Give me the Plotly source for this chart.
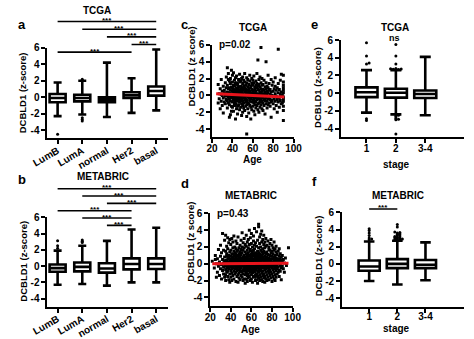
import plotly.graph_objects as go

W, H = 474, 339
FONT = "Liberation Sans, Arial, sans-serif"

# ---------------- DCBLD1 by PAM50 subtype ----------------
SUBTYPES = ["LumB", "LumA", "normal", "Her2", "basal"]

TCGA_SUB_LOW = [-2.3, -2.1, -2.4, -1.9, -1.6]
TCGA_SUB_Q1 = [-0.6, -0.5, -0.6, -0.1, 0.2]
TCGA_SUB_MED = [-0.1, -0.1, -0.3, 0.25, 0.75]
TCGA_SUB_Q3 = [0.4, 0.3, 0.0, 0.6, 1.3]
TCGA_SUB_HIGH = [1.8, 2.0, 4.2, 2.3, 5.8]
TCGA_SUB_OUT = [[-4.5], [2.2, -2.5, -2.7, -2.9], [], [], []]
TCGA_SUB_PAIRS = [("LumB", "basal"), ("LumA", "basal"), ("normal", "basal"),
                  ("Her2", "basal"), ("LumB", "Her2")]

MB_SUB_LOW = [-2.3, -2.2, -2.4, -2.0, -2.0]
MB_SUB_Q1 = [-0.7, -0.65, -0.8, -0.4, -0.35]
MB_SUB_MED = [-0.25, -0.1, -0.3, 0.25, 0.25]
MB_SUB_Q3 = [0.2, 0.45, 0.35, 0.95, 0.95]
MB_SUB_HIGH = [1.9, 2.5, 3.1, 4.5, 4.7]
MB_SUB_OUT = [[2.2, 2.5, 3.1], [2.9, 3.05, 3.2], [], [], []]
MB_SUB_PAIRS = [("LumB", "basal"), ("LumA", "basal"), ("normal", "basal"),
                ("LumB", "Her2"), ("LumA", "Her2"), ("normal", "Her2")]

# ---------------- DCBLD1 by tumour stage ----------------
STAGES = ["1", "2", "3-4"]

TCGA_ST_LOW = [-2.2, -2.4, -2.5]
TCGA_ST_Q1 = [-0.45, -0.5, -0.55]
TCGA_ST_MED = [0.1, 0.05, -0.1]
TCGA_ST_Q3 = [0.65, 0.5, 0.3]
TCGA_ST_HIGH = [2.6, 2.6, 4.1]
TCGA_ST_OUT = [[3.3, 3.4, 4.2, 5.7, -2.9, -3.1],
               [2.65, 2.68, 2.7, 2.72, 2.75, 2.78, 3.3, 4.2, 5.5,
                -2.5, -2.55, -2.7, -2.85, -2.95, -3.0, -4.6],
               []]

MB_ST_LOW = [-2.0, -2.4, -1.9]
MB_ST_Q1 = [-0.8, -0.5, -0.5]
MB_ST_MED = [-0.3, 0.0, -0.1]
MB_ST_Q3 = [0.4, 0.55, 0.45]
MB_ST_HIGH = [2.6, 2.7, 2.5]
MB_ST_OUT = [[2.8, 2.9, 3.0, 3.3, 3.6, 3.9, 4.1],
             [2.8, 2.82, 2.85, 2.9, 2.95, 3.0, 3.05, 3.1, 3.15, 3.2, 3.3, 3.35,
              3.45, 3.5, 3.6, 3.65, 3.7, 4.3, 4.6],
             []]
MB_ST_PAIRS = [("1", "2")]

# ---------------- DCBLD1 vs age (z score by patient age) ----------------
TCGA_Z_BY_AGE = {
    26: [1.3, -0.9], 27: [0.2, -0.4], 28: [0.8, -1.6], 29: [0.1, 1.9, -0.7],
    30: [-1.2, 0.5, 0.0], 31: [1.1, -0.3, -2.1], 32: [0.6, -0.8, 0.3],
    33: [1.5, -0.1, -1.0], 34: [0.9, -0.5, 2.2, 0.2],
    35: [3.3, -0.6, 0.4, 1.2, -1.5, 0.0], 36: [0.1, -0.9, 0.8, 2.6, -0.2, 1.9],
    37: [1.7, -1.1, 0.3, -0.4, 0.9, -2.6], 38: [-2.3, 0.0, 1.4, -0.7, 0.6, 2.0],
    39: [3.0, -0.3, 1.0, -1.3, 0.2, -1.9],
    40: [0.5, -0.8, 1.6, -0.1, 2.4, -1.4, 0.9], 41: [0.2, -0.5, 1.2, -1.9, 0.7, -0.2, 2.7],
    42: [-0.9, 0.4, 1.8, -0.3, 0.0, -1.2, 1.1], 43: [0.6, -0.6, 2.1, -2.8, 0.3, -1.0, 1.4],
    44: [-0.1, 0.9, -1.6, 0.2, 1.5, -0.4, 2.3], 45: [0.1, -0.7, 1.3, -1.3, 0.5, -0.2, 0.8, -2.2],
    46: [1.0, -0.5, 0.3, -1.1, 1.9, -0.1, 0.6], 47: [-0.8, 0.4, 1.6, -0.3, -1.7, 0.0, 2.5],
    48: [0.7, -0.6, 1.1, -1.4, 0.2, -0.2, 1.7], 49: [-0.4, 0.9, -1.0, 0.3, 2.0, -2.4, 0.5],
    50: [0.2, -0.7, 1.4, -1.2, 0.6, -0.1, 2.2, -2.0], 51: [0.8, -0.3, 1.1, -0.9, 0.0, 1.8, -1.5],
    52: [-0.5, 0.4, 1.6, -1.8, 0.9, -0.2, 2.6], 53: [0.1, -0.8, 1.2, -1.3, 0.5, -0.4, 0.7],
    54: [-4.6, 0.3, -0.6, 1.5, -1.1, 0.0, 2.1, -2.5], 55: [0.6, -0.2, 1.0, -1.6, 0.2, -0.9, 1.9],
    56: [-0.3, 0.8, -1.0, 0.4, 1.3, -2.1, 0.0], 57: [0.5, -0.5, 1.7, -1.2, 0.1, -0.7, 2.4],
    58: [-0.1, 0.9, -1.4, 0.3, 1.1, -0.4, -2.8], 59: [0.7, -0.8, 1.4, -0.2, 0.2, -1.7, 2.0],
    60: [0.4, -0.6, 1.2, -1.3, 0.0, 1.8, -0.2], 61: [-0.9, 0.6, 1.5, -0.4, 0.1, -1.9, 2.3],
    62: [0.3, -0.7, 1.0, -1.1, 0.8, -0.1, -2.3], 63: [-0.3, 0.5, 1.7, -1.5, 0.2, -0.8, 1.2],
    64: [0.9, -0.5, 0.0, -1.2, 1.4, -0.2, 2.6], 65: [4.2, -0.4, 0.7, -1.0, 0.2, 1.1, -1.7],
    66: [0.1, -0.9, 1.3, -0.3, 0.6, -2.0, 1.9], 67: [-0.6, 0.4, 1.0, -1.4, 0.0, 2.2, -0.1],
    68: [5.7, 0.3, -0.8, 1.5, -0.4, 0.8, -1.1], 69: [0.5, -0.2, -1.6, 1.2, 0.0, -0.7, 2.0],
    70: [0.2, -0.9, 1.3, -0.3, 0.7, -1.8], 71: [-0.5, 0.6, 1.8, -1.2, 0.1],
    72: [0.4, -0.6, 1.0, -2.2, -0.1], 73: [4.0, -0.3, 0.8, -1.0, 0.2, 1.5],
    74: [-0.7, 0.5, -1.5, 1.1, 0.0], 75: [0.3, -0.4, 2.4, -1.1, 0.9],
    76: [-0.2, 0.6, -0.9, 1.4], 77: [0.1, -1.3, 0.7, -0.5], 78: [-0.8, 0.4, 1.9, -2.6],
    79: [0.0, -0.6, 1.2], 80: [0.5, -1.0, 1.6, -0.2], 81: [-0.4, 0.8, -1.6],
    82: [0.2, -0.7, 1.1, 2.1], 83: [-0.1, 0.6, -1.2], 84: [0.9, -0.5, -2.0],
    85: [5.5, 0.3, -0.8, 1.4], 86: [-0.3, 0.7, -1.4], 87: [0.1, 1.8, -0.6],
    88: [-1.0, 0.4, 2.5], 89: [0.0, -0.9],
    90: [2.4, 1.6, 0.9, 0.3, -0.2, -0.7, -1.3, -1.8, -3.0, 1.2, -0.4, 0.6],
}
TCGA_FIT_AGE = [24, 91]
TCGA_FIT_Z = [0.2, -0.2]

MB_Z_BY_AGE = {
    22: [0.3], 24: [-0.5], 25: [1.0, 0.5], 26: [0.0, -1.6], 27: [-1.0, 0.6],
    28: [1.7, -0.3], 29: [0.2, -1.4], 30: [0.9, -0.6, 2.2], 31: [-0.1, 1.3, -1.8],
    32: [0.5, -0.8, 3.6], 33: [0.1, 1.6, -1.2, -0.4], 34: [0.8, -1.6, 2.8, 0.3, -0.2],
    35: [0.4, -0.7, 1.5, -1.3, 0.0, 3.4, -2.0], 36: [-0.2, 0.9, -1.0, 2.1, 0.3, -0.5, 1.2],
    37: [0.6, -1.5, 0.1, 1.8, -0.4, 3.1, -0.9], 38: [-0.6, 0.2, 1.0, -1.9, 0.7, 2.5, -0.1],
    39: [1.4, -0.3, 0.0, -1.2, 0.5, 2.9, -2.2],
    40: [0.2, -0.8, 1.6, -0.4, 0.9, -1.6, 2.3, 0.0], 41: [-0.1, 0.7, -1.1, 1.2, 0.4, -0.6, 3.0, -2.0],
    42: [0.5, -0.5, 1.9, -1.4, 0.1, 0.8, -0.2, 2.6], 43: [-0.9, 0.3, 1.1, -0.3, 0.6, -1.8, 1.5, 3.3],
    44: [0.0, -0.6, 0.9, -1.2, 2.0, 0.4, -0.1, 1.3],
    45: [0.3, -0.4, 1.2, -1.0, 0.7, -2.1, 1.8, 0.0, 2.7], 46: [-0.2, 0.5, -0.8, 1.5, 0.1, -1.5, 2.4, 0.9, -0.5],
    47: [0.6, -0.1, 1.0, -1.3, 0.2, -0.7, 3.2, 1.6, -2.2], 48: [-0.4, 0.8, -1.1, 0.3, 1.9, -0.2, 0.0, -1.7, 1.2],
    49: [0.1, -0.6, 1.4, -0.9, 0.5, 2.2, -0.3, -1.9, 0.9], 50: [0.4, -0.5, 1.1, -1.4, 0.0, 1.7, -0.9, 2.8, 0.7],
    51: [-0.3, 0.6, -1.0, 1.3, 0.2, -1.6, 2.0, -0.1, 3.7], 52: [0.8, -0.2, 0.3, -1.2, 1.6, -0.7, 2.5, 0.0, -2.0],
    53: [-0.5, 0.1, 1.0, -0.8, 0.5, -1.8, 1.9, 3.0, -0.2], 54: [0.2, -0.9, 1.4, -0.4, 0.7, -1.3, 2.3, 0.0, -2.3],
    55: [0.5, -0.3, 1.2, -1.1, 0.0, -1.8, 2.1, 0.8, -0.6, 3.4],
    56: [-0.1, 0.7, -0.9, 1.6, 0.3, -1.4, 2.6, -0.4, 1.0, -2.1],
    57: [0.2, -0.6, 1.3, -1.2, 0.6, -0.2, 1.9, -1.7, 0.0, 2.9],
    58: [-0.4, 0.4, 1.0, -0.8, 0.1, -1.5, 2.3, 0.9, -0.1, 4.0],
    59: [0.6, -0.5, 1.5, -1.0, 0.2, -2.0, 1.7, -0.3, 0.0, 3.1],
    60: [-0.2, 0.3, 1.1, -1.3, 0.8, -0.7, 2.4, -1.8, 0.5, 3.6],
    61: [0.1, -0.8, 1.4, -0.4, 0.6, -1.1, 2.0, -2.2, 0.0, 1.2],
    62: [-0.6, 0.5, 0.9, -1.5, 0.2, -0.2, 2.7, 1.6, -0.9, 3.3],
    63: [0.4, -0.3, 1.8, -1.0, 0.0, -1.6, 1.1, -0.5, 2.2, 4.2],
    64: [-0.1, 0.7, -0.7, 1.3, 0.3, -1.4, 2.5, -2.0, 0.9, -0.4],
    65: [0.3, -0.5, 1.0, -1.2, 0.6, -1.9, 2.1, 0.0, 3.8, -0.2],
    66: [-0.4, 0.8, -0.9, 1.5, 0.1, -1.5, 2.8, 0.4, -2.3, 1.1],
    67: [0.2, -0.2, 1.3, -1.0, 0.7, -0.6, 4.7, 1.9, -1.7, 4.4],
    68: [-0.7, 0.5, 1.1, -1.3, 0.0, 2.4, -0.3, 3.2, 0.9, -2.0],
    69: [0.4, -0.8, 1.6, -0.4, 0.2, -1.6, 2.0, -0.1, 3.5, 0.7],
    70: [-0.2, 0.6, 1.0, -1.1, 0.1, -1.9, 2.6, -0.5, 1.4, 3.9],
    71: [0.5, -0.3, 1.2, -0.9, 0.0, -1.4, 1.8, -2.1, 0.8, 2.9],
    72: [-0.5, 0.2, 1.5, -1.2, 0.6, -0.1, 2.3, -1.7, 0.3, 3.4],
    73: [0.1, -0.7, 0.9, -0.3, 1.9, -1.5, 0.4, 2.6, -2.2, 1.3],
    74: [-0.3, 0.7, 1.2, -1.0, 0.2, -1.8, 2.1, -0.6, 0.0, 3.0],
    75: [0.4, -0.4, 1.4, -1.3, 0.0, 2.2, -2.0, 0.8], 76: [-0.1, 0.6, -0.9, 1.1, 0.2, -1.6, 2.7, -0.5],
    77: [0.3, -0.6, 1.7, -1.1, 0.7, -0.2, 2.0, -1.9], 78: [-0.4, 0.5, 1.0, -1.4, 0.1, 1.6, -0.8, 2.4],
    79: [0.6, -0.2, 1.3, -1.0, 0.0, -1.7, 2.9, 0.3], 80: [-0.5, 0.2, 0.9, -1.2, 1.5, -0.1, -2.1, 2.2],
    81: [0.1, -0.7, 1.2, -0.3, 0.6, -1.5, 1.9, 0.0], 82: [-0.2, 0.4, 1.6, -1.0, 0.8, -1.8, 2.6, -0.6],
    83: [0.5, -0.4, 1.0, -1.3, 0.2, 1.8, -2.0, 0.0], 84: [-0.1, 0.7, -0.8, 1.4, 0.3, -1.6, 2.1, -0.5],
    85: [0.2, -0.6, 1.1, -1.2, 0.6, -0.2], 86: [-0.4, 0.5, 1.5, -1.0, 0.0],
    87: [0.3, -0.8, 0.9, -1.5, 1.8], 88: [-0.2, 0.6, -0.9, 1.2, 0.1], 89: [0.4, -0.5, -1.9, 0.8],
    90: [1.0, -0.3, 0.2], 91: [-0.6, 0.5], 92: [0.1, -1.0], 93: [0.7], 94: [-0.2], 96: [1.9],
}
MB_FIT_AGE = [22, 96]
MB_FIT_Z = [0.0, 0.05]

# ---------------- layout helpers ----------------
Y_RANGE = (-5, 6)
Y_TICKS = [-4, -2, 0, 2, 4, 6]
Y_TEXT = ["-4", "-2", "0", "2", "4", "6"]

# pixel frames of the six subplots: (left, right, top[y=6], bottom[y=-5]) and x range
FRAMES = {
    "a": dict(n=1, box=(33, 160, 43, 136), xr=(-0.42, 4.46)),
    "b": dict(n=2, box=(33, 160, 217, 309), xr=(-0.42, 4.46)),
    "c": dict(n=3, box=(207, 293, 40, 135), xr=(20, 100)),
    "d": dict(n=4, box=(205, 292, 213, 308), xr=(20, 100)),
    "e": dict(n=5, box=(343, 473, 35, 135), xr=(-0.87, 3.32)),
    "f": dict(n=6, box=(344, 473, 212, 309), xr=(-0.97, 3.37)),
}


def ax_names(key):
    n = FRAMES[key]["n"]
    s = "" if n == 1 else str(n)
    return "x" + s, "y" + s, "xaxis" + s, "yaxis" + s


def y_paper(key, v):
    _, _, top, bot = FRAMES[key]["box"]
    py = bot - (v - Y_RANGE[0]) / (Y_RANGE[1] - Y_RANGE[0]) * (bot - top)
    return 1 - py / H


def bold(t):
    return "<b>" + t + "</b>"


TICKFONT = dict(family=FONT, size=10, color="black", weight="bold")
LINE_W = 1.6

fig = go.Figure()
layout = dict(width=W, height=H, margin=dict(l=0, r=0, t=0, b=0),
              paper_bgcolor="white", plot_bgcolor="white", showlegend=False,
              font=dict(family=FONT, color="black"))
annotations = []
shapes = []

for key, fr in FRAMES.items():
    xa, ya, xname, yname = ax_names(key)
    l, r, t, b = fr["box"]
    layout[xname] = dict(domain=[l / W, r / W], range=list(fr["xr"]), anchor=ya,
                         showline=True, linecolor="black", linewidth=LINE_W,
                         ticks="outside", ticklen=4, tickwidth=LINE_W, tickcolor="black",
                         showgrid=False, zeroline=False, tickfont=TICKFONT, fixedrange=True,
                         ticklabelstandoff=-3)
    layout[yname] = dict(domain=[1 - b / H, 1 - t / H], range=list(Y_RANGE), anchor=xa,
                         showline=True, linecolor="black", linewidth=LINE_W,
                         ticks="outside", ticklen=4, tickwidth=LINE_W, tickcolor="black",
                         showgrid=False, zeroline=False, tickfont=TICKFONT,
                         tickvals=Y_TICKS, ticktext=Y_TEXT, fixedrange=True)

# the stage panel of the lower row sits tighter against its axis title
layout["xaxis6"]["ticklabelstandoff"] = -5


def swarm(vals, pos, step=0.09, tol=0.12):
    xs, ys = [], []
    start, k = None, 0
    for v in sorted(vals):
        if start is None or v - start > tol:
            start, k = v, 0
        else:
            k += 1
        off = ((k + 1) // 2) * step * (1 if k % 2 else -1)
        xs.append(pos + off)
        ys.append(v)
    return xs, ys


def box_panel(key, cats, low, q1, med, q3, high, outs, width, rot):
    xa, ya, xname, _ = ax_names(key)
    for i in range(len(cats)):
        fig.add_trace(go.Box(x=[i], lowerfence=[low[i]], q1=[q1[i]], median=[med[i]],
                             q3=[q3[i]], upperfence=[high[i]], width=width, whiskerwidth=0.5,
                             fillcolor="white", line=dict(color="black", width=2.6),
                             boxpoints=False, xaxis=xa, yaxis=ya, hoverinfo="skip"))
        if outs[i]:
            ox, oy = swarm(outs[i], i)
            fig.add_trace(go.Scatter(x=ox, y=oy, mode="markers", xaxis=xa, yaxis=ya,
                                     marker=dict(color="black", size=3), hoverinfo="skip",
                                     cliponaxis=False))
    layout[xname].update(tickvals=list(range(len(cats))), ticktext=cats, tickangle=rot)


def sig_bars(key, cats, pairs, top_level, step, label="***"):
    xa, _, _, _ = ax_names(key)
    for j, (c1, c2) in enumerate(pairs):
        lvl = top_level - j * step
        yp = y_paper(key, lvl)
        i1, i2 = cats.index(c1), cats.index(c2)
        shapes.append(dict(type="line", xref=xa, yref="paper", x0=i1, x1=i2, y0=yp, y1=yp,
                           line=dict(color="black", width=1.6)))
        annotations.append(dict(xref=xa, yref="paper", x=(i1 + i2) / 2, y=yp,
                                text=bold(label), showarrow=False, yanchor="middle",
                                yshift=1, font=dict(family=FONT, size=8, color="black")))


def scatter_panel(key, table, fit_age, fit_z):
    xa, ya, xname, _ = ax_names(key)
    ages, zs = [], []
    for age, vals in table.items():
        ages += [age] * len(vals)
        zs += vals
    fig.add_trace(go.Scatter(x=ages, y=zs, mode="markers", xaxis=xa, yaxis=ya,
                             marker=dict(color="black", size=3, symbol="square"),
                             hoverinfo="skip"))
    fig.add_trace(go.Scatter(x=fit_age, y=fit_z, mode="lines", xaxis=xa, yaxis=ya,
                             line=dict(color="#e8141c", width=3), hoverinfo="skip"))
    layout[xname].update(tickvals=[20, 40, 60, 80, 100])


box_panel("a", SUBTYPES, TCGA_SUB_LOW, TCGA_SUB_Q1, TCGA_SUB_MED, TCGA_SUB_Q3,
          TCGA_SUB_HIGH, TCGA_SUB_OUT, 0.65, -30)
box_panel("b", SUBTYPES, MB_SUB_LOW, MB_SUB_Q1, MB_SUB_MED, MB_SUB_Q3,
          MB_SUB_HIGH, MB_SUB_OUT, 0.65, -30)
scatter_panel("c", TCGA_Z_BY_AGE, TCGA_FIT_AGE, TCGA_FIT_Z)
scatter_panel("d", MB_Z_BY_AGE, MB_FIT_AGE, MB_FIT_Z)
box_panel("e", STAGES, TCGA_ST_LOW, TCGA_ST_Q1, TCGA_ST_MED, TCGA_ST_Q3,
          TCGA_ST_HIGH, TCGA_ST_OUT, 0.75, 0)
box_panel("f", STAGES, MB_ST_LOW, MB_ST_Q1, MB_ST_MED, MB_ST_Q3,
          MB_ST_HIGH, MB_ST_OUT, 0.75, 0)

sig_bars("a", SUBTYPES, TCGA_SUB_PAIRS, 9.2, 0.93)
sig_bars("b", SUBTYPES, MB_SUB_PAIRS, 9.5, 0.9)
sig_bars("f", STAGES, MB_ST_PAIRS, 6.4, 0.9)


def text_px(x, y, txt, size, angle=0, xanchor="center"):
    annotations.append(dict(xref="paper", yref="paper", x=x / W, y=1 - y / H,
                            text=bold(txt), showarrow=False, textangle=angle,
                            xanchor=xanchor, yanchor="middle",
                            font=dict(family=FONT, size=size, color="black")))


# panel letters
for letter, (x, y) in {"a": (6, 19), "b": (6, 178), "c": (178, 19),
                       "d": (178, 182), "e": (315, 19), "f": (315, 180)}.items():
    text_px(x, y, letter, 13)

# cohort titles
text_px(85, 5, "TCGA", 10)
text_px(92, 175, "METABRIC", 10)
text_px(250, 22, "TCGA", 10)
text_px(248, 195, "METABRIC", 10)
text_px(400, 22, "TCGA", 10)
text_px(403, 195, "METABRIC", 10)

# axis titles
text_px(7, 89, "DCBLD1 (z-score)", 9.5, -90)
text_px(7, 262, "DCBLD1 (z-score)", 9.5, -90)
text_px(185, 62, "DCBLD1 (z score)", 9.5, -90)
text_px(184, 242, "DCBLD1 (z score)", 9.5, -90)
text_px(319, 84, "DCBLD1 (z-score)", 9.5, -90)
text_px(319, 257, "DCBLD1 (z-score)", 9.5, -90)
text_px(250, 158, "Age", 10)
text_px(248, 332, "Age", 10)
text_px(402, 163, "stage", 10)
text_px(402, 331, "stage", 10)

# statistics
text_px(212, 40, "p=0.02", 10, xanchor="left")
text_px(210, 213, "p=0.43", 10, xanchor="left")
text_px(400, 33, "ns", 9)

layout["annotations"] = annotations
layout["shapes"] = shapes
fig.update_layout(**layout)
fig.write_html("out.html")
